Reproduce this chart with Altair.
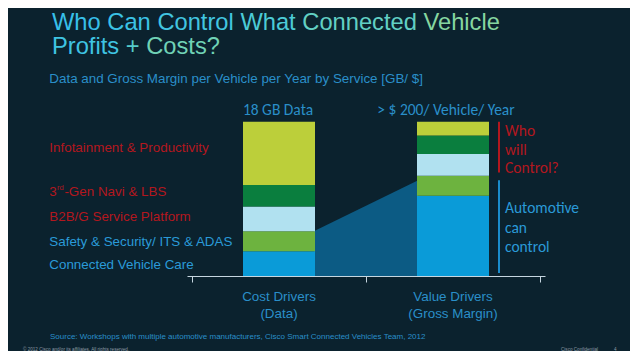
import altair as alt
import pandas as pd

# ---------------- data ----------------
services = [
    "Connected Vehicle Care",
    "Safety & Security/ ITS & ADAS",
    "B2B/G Service Platform",
    "3rd-Gen Navi & LBS",
    "Infotainment & Productivity",
]
service_colors = ["#0a9bd8", "#6db33f", "#b1e1f0", "#0a7e3e", "#bccf3a"]
drivers = ["Cost Drivers", "Value Drivers"]
drivers_sub = ["(Data)", "(Gross Margin)"]
driver_pos = [0.5, 1.5]
cost_share = [16, 13, 16, 14, 41]      # share of 18 GB data (%)
value_share = [52, 13, 14, 12, 9]      # share of > $200 gross margin (%)
connector_x = [0.7, 1.3]               # bar edges in axis units
connector_top = [29, 62]
axis_ticks = [0, 1, 2]
bar_headers = ["18 GB Data", "> $ 200/ Vehicle/ Year"]

# ---------------- style ----------------
BG = "#0b222e"
ARIAL = "Liberation Sans, Arial, sans-serif"
NARROW = ARIAL
NS = 13.4  # size giving about the width of the narrow original
CALIBRI = "Carlito, Lato, Open Sans, sans-serif"
BLUE_TXT = "#2a8fc9"
BLUE2 = "#2a9ad8"
RED = "#b3171e"
POLY = "#0c5b84"
OFF = 8  # page margin

xscale = alt.Scale(domain=[0, 2], range=[187 - OFF, 545 - OFF], nice=False, zero=False)
yscale = alt.Scale(domain=[0, 100], range=[276 - OFF, 121.7 - OFF], nice=False)
AX = alt.Axis(values=axis_ticks, labels=False, title=None, grid=False,
              domainColor="#c6d6e0", tickColor="#c6d6e0", tickSize=6,
              domainWidth=1, tickWidth=1, offset=-75)

rows = []
for d, p, vals in zip(drivers, driver_pos, [cost_share, value_share]):
    for i, (s, v) in enumerate(zip(services, vals)):
        rows.append(dict(driver=d, pos=p, service=s, order=i, value=v))
bars_df = pd.DataFrame(rows)
conn_df = pd.DataFrame({"x": connector_x, "y": connector_top})

area = alt.Chart(conn_df).mark_area(color=POLY, opacity=1).encode(
    x=alt.X("x:Q", scale=xscale, axis=AX),
    y=alt.Y("y:Q", scale=yscale, axis=None),
)

bars = alt.Chart(bars_df).mark_bar(size=72).encode(
    x=alt.X("pos:Q", scale=xscale, axis=AX),
    y=alt.Y("value:Q", scale=yscale, axis=None, stack="zero"),
    color=alt.Color("service:N", scale=alt.Scale(domain=services, range=service_colors), legend=None),
    order=alt.Order("order:Q", sort="ascending"),
)

rules_df = pd.DataFrame({"y": [67, 2], "y2": [100, 62], "c": [RED, "#1a8ccc"]})
rules = alt.Chart(rules_df).mark_rule(strokeWidth=2).encode(
    x=alt.value(499 - OFF),
    y=alt.Y("y:Q", scale=yscale, axis=None),
    y2="y2:Q",
    color=alt.Color("c:N", scale=None),
)

cat_df = pd.DataFrame({"pos": driver_pos, "l1": drivers, "l2": drivers_sub})
cat1 = alt.Chart(cat_df).mark_text(font=NARROW, fontSize=NS, color=BLUE_TXT, baseline="middle").encode(
    x=alt.X("pos:Q", scale=xscale, axis=AX), y=alt.value(296.5 - OFF), text="l1:N")
cat2 = alt.Chart(cat_df).mark_text(font=NARROW, fontSize=NS, color=BLUE_TXT, baseline="middle").encode(
    x=alt.X("pos:Q", scale=xscale, axis=AX), y=alt.value(314 - OFF), text="l2:N")


def txt(s, x, y, color, size, font=NARROW, align="left", baseline="middle"):
    return alt.Chart(pd.DataFrame({"t": [s]})).mark_text(
        font=font, fontSize=size, color=color, align=align, baseline=baseline
    ).encode(text="t:N", x=alt.value(x - OFF), y=alt.value(y - OFF))


layers = [area, bars, rules, cat1, cat2]

layers.append(txt(bar_headers[0], 278, 110, BLUE_TXT, 15.5, font=CALIBRI, align="center"))
layers.append(txt(bar_headers[1], 446, 110, BLUE_TXT, 15.5, font=CALIBRI, align="center"))

# title words (gradient approximated per word)
title1 = [("Who", 52, "#37bfe9"), ("Can", 107.3, "#3bc2e6"), ("Control", 157.4, "#42c6e0"),
          ("What", 240.4, "#4ccbd6"), ("Connected", 302.3, "#62d0c4"), ("Vehicle", 423.5, "#86d6a0")]
title2 = [("Profits", 52, "#3fc4e2"), ("+", 125.8, "#55cccc"), ("Costs?", 146.2, "#70d2b6")]
for w, x, c in title1:
    layers.append(txt(w, x, 30, c, 23.7, font=ARIAL, baseline="alphabetic"))
for w, x, c in title2:
    layers.append(txt(w, x, 53.5, c, 23.7, font=ARIAL, baseline="alphabetic"))

layers.append(txt("Data and Gross Margin per Vehicle per Year by Service [GB/ $]", 49.3, 78.5, BLUE_TXT, NS))

# left service labels
layers.append(txt("Infotainment & Productivity", 49.3, 148.3, RED, NS))
layers.append(txt("3", 49.3, 191.7, RED, NS))
layers.append(txt("rd", 56.9, 187.8, RED, 7.5))
layers.append(txt("-Gen Navi & LBS", 64.4, 191.7, RED, NS))
layers.append(txt("B2B/G Service Platform", 49.3, 216.7, RED, NS))
layers.append(txt("Safety & Security/ ITS & ADAS", 49.3, 241.7, BLUE2, NS))
layers.append(txt("Connected Vehicle Care", 49.3, 265, BLUE2, NS))

# right annotations
for w, y in [("Who", 130.7), ("will", 150), ("Control?", 168.3)]:
    layers.append(txt(w, 505, y, RED, 15.5, font=CALIBRI))
for w, y in [("Automotive", 208.3), ("can", 228.3), ("control", 246.7)]:
    layers.append(txt(w, 505, y, BLUE2, 15.5, font=CALIBRI))

# source and footer
layers.append(txt("Source: Workshops with multiple automotive manufacturers, Cisco Smart Connected Vehicles Team, 2012",
                  50, 337.3, BLUE_TXT, 8.0))
layers.append(txt("© 2012 Cisco and/or its affiliates. All rights reserved.", 23, 349.5, "#8d9aa4", 4.6))
layers.append(txt("Cisco Confidential", 561, 349.5, "#8d9aa4", 4.6))
layers.append(txt("4", 614, 349.5, "#8d9aa4", 4.6))

chart = alt.layer(*layers).properties(
    width=638 - 2 * OFF, height=359 - 2 * OFF,
    autosize=alt.AutoSizeParams(type="none"),
    padding=0,
    background=BG,
).configure_view(stroke=None)

chart.save("out.html", embed_options={"renderer": "svg", "actions": False})
